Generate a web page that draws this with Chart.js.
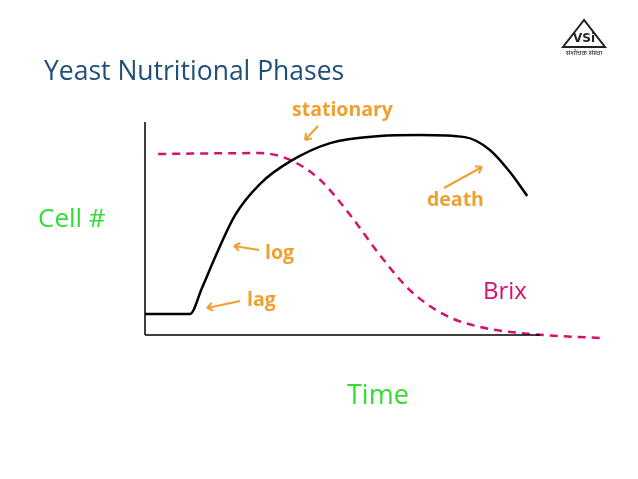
<!DOCTYPE html>
<html lang="en">
<head>
    <meta charset="UTF-8">
    <title>Yeast Nutritional Phases</title>
    <script src="https://cdn.jsdelivr.net/npm/chart.js"></script>
    <style>
        body { margin: 0; background: #fff; }
        #wrap { width: 638px; height: 479px; position: relative; }
    </style>
</head>
<body>
    <div id="wrap"><canvas id="yeastChart"></canvas></div>
    <script>
        // Cell count curve (time, cell #)
        const cellTime = [0, 9.9, 12.5, 15.5, 19.8, 25.3, 31.9, 40.7, 51.6, 60.4, 70.3, 75.8, 80.2, 84.0];
        const cellCount = [9.9, 9.9, 22, 37, 56.3, 71, 81.5, 90.1, 93.4, 93.9, 92.9, 86.9, 76.5, 65.3];
        // Brix curve (time, brix)
        const brixTime = [2.9, 25.3, 31.9, 38.5, 45.1, 51.6, 58.2, 65.9, 73.6, 84.6, 100];
        const brixValue = [85, 85.4, 82.2, 72.8, 56.3, 37.6, 21.1, 9.4, 3.8, 0.5, -1.4];
        const axisEnd = 86.8;

        const toXY = (xs, ys) => xs.map((x, i) => ({ x: x, y: ys[i] }));

        const orange = '#F0A030';

        function arrow(ctx, x1, y1, x2, y2) {
            const a = Math.atan2(y2 - y1, x2 - x1);
            ctx.beginPath();
            ctx.moveTo(x1, y1);
            ctx.lineTo(x2, y2);
            ctx.moveTo(x2, y2);
            ctx.lineTo(x2 - 7 * Math.cos(a - 0.6), y2 - 7 * Math.sin(a - 0.6));
            ctx.moveTo(x2, y2);
            ctx.lineTo(x2 - 7 * Math.cos(a + 0.6), y2 - 7 * Math.sin(a + 0.6));
            ctx.stroke();
        }

        const labelsPlugin = {
            id: 'labels',
            afterDraw(chart) {
                const ctx = chart.ctx;
                ctx.save();
                ctx.textBaseline = 'middle';
                ctx.fillStyle = '#1F4E79';
                ctx.font = '26.5px "Open Sans", sans-serif';
                ctx.fillText('Yeast Nutritional Phases', 44, 72);
                ctx.fillStyle = '#33DD33';
                ctx.font = '26px "Open Sans", sans-serif';
                ctx.fillText('Cell #', 38, 220);
                ctx.font = '27px "Open Sans", sans-serif';
                ctx.fillText('Time', 347, 396);
                ctx.fillStyle = '#D6106E';
                ctx.font = '24px "Open Sans", sans-serif';
                ctx.fillText('Brix', 483, 292);
                ctx.fillStyle = orange;
                ctx.font = 'bold 19.5px "Open Sans", sans-serif';
                ctx.fillText('stationary', 292, 110);
                ctx.fillText('death', 427, 200);
                ctx.fillText('log', 265, 253);
                ctx.fillText('lag', 247, 300);
                ctx.strokeStyle = orange;
                ctx.lineWidth = 2;
                arrow(ctx, 318, 126, 305, 140);
                arrow(ctx, 444, 188, 482, 167);
                arrow(ctx, 259, 250, 234, 246);
                arrow(ctx, 240, 301, 207, 308);
                // logo
                ctx.strokeStyle = '#222';
                ctx.lineWidth = 2;
                ctx.beginPath();
                ctx.moveTo(584, 20); ctx.lineTo(563, 47); ctx.lineTo(605, 47); ctx.closePath();
                ctx.stroke();
                ctx.fillStyle = '#222';
                ctx.font = 'bold 12px "DejaVu Sans", sans-serif';
                ctx.textAlign = 'center';
                ctx.fillText('VSi', 584, 39);
                ctx.font = '7px "Noto Sans", sans-serif';
                ctx.fillText('संशोधक संस्था', 584, 53);
                ctx.restore();
            }
        };

        new Chart(document.getElementById('yeastChart'), {
            type: 'scatter',
            data: {
                datasets: [
                    { data: [{ x: 0, y: 0 }, { x: 0, y: 100 }], showLine: true, borderColor: '#000', borderWidth: 1.5, pointRadius: 0 },
                    { data: [{ x: 0, y: 0 }, { x: axisEnd, y: 0 }], showLine: true, borderColor: '#000', borderWidth: 1.5, pointRadius: 0 },
                    { data: toXY(cellTime, cellCount), showLine: true, borderColor: '#000', borderWidth: 2.5, pointRadius: 0, tension: 0.4, cubicInterpolationMode: 'monotone' },
                    { data: toXY(brixTime, brixValue), showLine: true, borderColor: '#D6106E', borderWidth: 2.5, borderDash: [8, 6], pointRadius: 0, tension: 0.4, cubicInterpolationMode: 'monotone' }
                ]
            },
            options: {
                responsive: true,
                maintainAspectRatio: false,
                animation: false,
                clip: false,
                layout: { padding: { left: 145, top: 122, right: 38, bottom: 144 } },
                plugins: { legend: { display: false }, tooltip: { enabled: false } },
                scales: {
                    x: { type: 'linear', min: 0, max: 100, display: false },
                    y: { min: 0, max: 100, display: false }
                }
            },
            plugins: [labelsPlugin]
        });
    </script>
</body>
</html>
